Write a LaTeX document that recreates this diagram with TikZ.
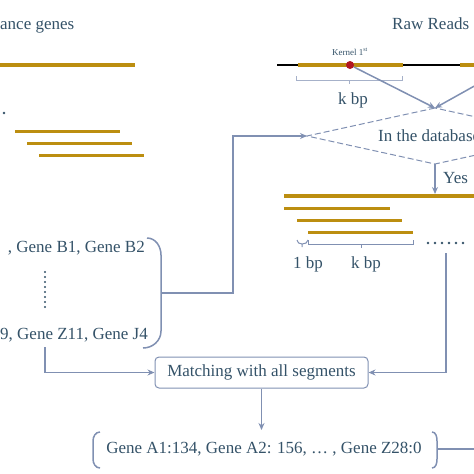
\documentclass[tikz,border=0pt]{standalone}
\usepackage{fontspec}
\setmainfont{Liberation Serif}
\usetikzlibrary{arrows.meta,positioning}
\definecolor{gold}{RGB}{188,142,16}
\definecolor{linegray}{RGB}{128,144,178}
\definecolor{ink}{RGB}{52,82,104}
\definecolor{kred}{RGB}{178,22,34}
\tikzset{
    lbl/.style={text=ink,font=\fontsize{17}{19}\selectfont,inner sep=0pt},
    tiny/.style={text=ink,font=\fontsize{9}{10}\selectfont,inner sep=0pt},
    bar/.style={gold,line width=4pt},
    seg/.style={gold,line width=3pt},
    conn/.style={linegray,line width=1.5pt},
    pre/.style={conn,-{Stealth[length=7pt,width=6pt]}},
    ask/.style={linegray,line width=1pt,dash pattern=on 6pt off 3pt},
    ruler/.style={linegray!70,line width=0.8pt},
    kdot/.style={circle,fill=kred,inner sep=0pt,minimum size=8pt}
}

\begin{document}
\begin{tikzpicture}[x=1pt,y=-1pt]
    \useasboundingbox (0,0) rectangle (474,474);
    \clip (0,0) rectangle (474,474);

    % gene side
    \node[lbl,anchor=base west] (genes) at (0,29) {ance genes};
    \draw[bar] (-5,65) -- (135,65);
    \fill[ink] (4,113) circle (1.4pt);
    \draw[seg] (15,131) -- (120,131);
    \draw[seg] (27,143) -- (132,143);
    \draw[seg] (39,155) -- (144,155);

    \node[lbl,anchor=east] (listB) at (145,248) {, Gene B1, Gene B2};
    \foreach \i in {0,...,7}
        \fill[ink] (45,272+5*\i) circle (1.2pt);
    \node[lbl,anchor=east] (listJ) at (148,335) {9, Gene Z11, Gene J4};
    \draw[conn] (147,238) to[out=0,in=90] (161,255) -- (161,331)
        to[out=-90,in=0] (143,348);
    \coordinate (brace) at (161,293);

    % read side
    \node[lbl,anchor=base west] (reads) at (392,29) {Raw Reads};
    \draw[black,line width=1.6pt] (277,65) -- (480,65);
    \draw[bar] (298,65) -- (403,65);
    \draw[bar] (460,65) -- (480,65);
    \node[kdot] (k1) at (350,65) {};
    \coordinate (k2) at (512,65);
    \node[tiny] (kernel) at (350,52) {Kernel 1\textsuperscript{st}};
    \draw[ruler] (296,76) -- (296,80) -- (402,80) -- (402,76);
    \draw[ruler] (349,80) -- (349,84);
    \node[lbl] (kbp) at (353,100) {k bp};

    \coordinate (dtop) at (435,108);
    \coordinate (dleft) at (307,136);
    \coordinate (dbot) at (435,164);
    \coordinate (dright) at (563,136);
    \draw[ask] (dtop) -- (dleft) -- (dbot) -- (dright) -- cycle;
    \node[lbl,anchor=west] (db) at (378,136) {In the database};
    \draw[pre] (k1) -- (dtop);
    \draw[pre] (k2) -- (dtop);
    \draw[pre] (brace) -- ++(72,0) |- (dleft);

    \coordinate (hit) at (435,194);
    \draw[pre] (dbot) -- (hit);
    \node[lbl,right=8pt of dbot,yshift=-14pt] (yes) {Yes};

    \draw[bar] (284,196) -- (480,196);
    \draw[seg] (284,208) -- (390,208);
    \draw[seg] (297,220) -- (402,220);
    \draw[seg] (308,232) -- (413,232);
    \draw[conn,line width=1pt] (297,240) to[out=-90,in=180] (302,244)
        -- (302,247) (302,244) to[out=0,in=-90] (308,240);
    \draw[conn,line width=1pt] (308,240) -- (308,244) -- (413,244) -- (413,240);
    \draw[conn,line width=1pt] (361,244) -- (361,248);
    \node[lbl] (bp1) at (308,264) {1 bp};
    \node[lbl] (kbp2) at (366,264) {k bp};
    \foreach \i in {0,...,5}
        \fill[ink] (428+7*\i,243) circle (1.3pt);
    \coordinate (more) at (446,253);

    % matching
    \node[lbl,draw=linegray,line width=1pt,rounded corners=4pt,
        minimum width=213pt,minimum height=31pt] (match) at (261.5,372.5)
        {Matching with all segments};
    \draw[pre] (more) |- (match);
    \coordinate (jfoot) at (45,347);
    \draw[pre] (jfoot) |- (match);

    \node[lbl] (result) at (264,449) {Gene A1:134, Gene A2: 156, \dots\ , Gene Z28:0};
    \coordinate (rtop) at (261.5,430);
    \draw[pre] (match) -- (rtop);
    \draw[conn] (100,432) to[out=180,in=90] (93,441) -- (93,459)
        to[out=-90,in=180] (100,468);
    \draw[conn] (432,432) to[out=0,in=90] (437,441) -- (437,459)
        to[out=-90,in=0] (432,468);
    \draw[conn] (437,449) -- (480,449);
\end{tikzpicture}
\end{document}
